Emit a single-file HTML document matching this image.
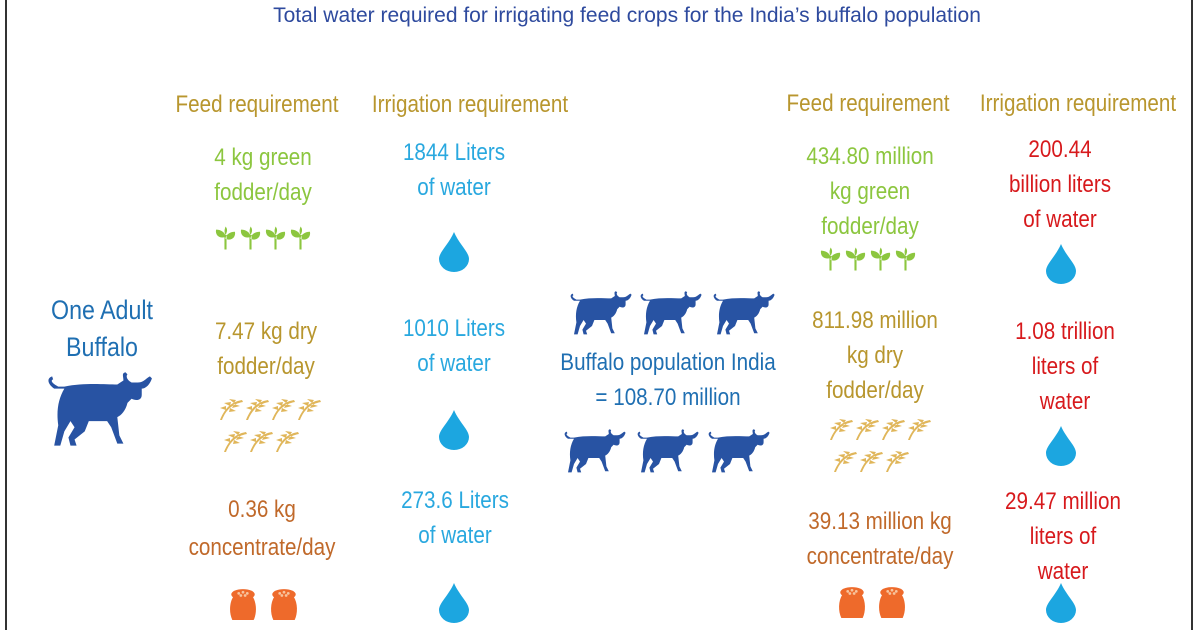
<!DOCTYPE html>
<html><head><meta charset="utf-8">
<style>
html,body{margin:0;padding:0;background:#fff;}
#root{position:relative;width:1200px;height:630px;overflow:hidden;background:#fff;font-family:"Liberation Sans Narrow","Liberation Sans",sans-serif;}
.frame{position:absolute;left:5px;top:-2px;width:1188px;height:640px;border:2px solid #333;box-sizing:border-box;}
.t{position:absolute;transform:translateX(-50%) scaleX(0.86);white-space:nowrap;text-align:center;font-size:24px;line-height:35px;}
.hdr{color:#b8962e;font-size:24px;}
.green{color:#8cc63f}.blue{color:#29a8df}.gold{color:#b8962e}.orange{color:#c0692a}.red{color:#d7191c}.navy{color:#1f6fb2}
svg.ic{position:absolute;overflow:visible}
</style></head><body>
<div id="root">
<div class="frame"></div>
<svg width="0" height="0" style="position:absolute">
<defs>
<symbol id="buf" viewBox="0 0 110 80"><path fill="#2853a3" d="M10,18 C4,14 2,8 8,6 L9,9 C6,10 8,13 14,16 L20,16 C40,12 60,14 72,14 L78,10 C78,6 76,3 80,2 L82,4 C80,6 82,10 86,12 L92,12 C98,12 100,8 104,6 L106,8 C104,14 100,18 96,18 L96,24 C96,30 90,30 86,28 L82,32 C80,40 76,44 72,46 L74,64 L78,72 L72,72 L66,56 L62,50 L44,50 L40,60 L30,68 L32,74 L26,74 L24,66 L30,56 L26,50 L20,60 L16,74 L10,74 L14,54 C12,40 14,28 20,18 Z"/></symbol>
<symbol id="drop" viewBox="0 0 30 40"><path fill="#1ca6e0" d="M15,0 C20,12 30,20 30,27 A15,13 0 0 1 0,27 C0,20 10,12 15,0 Z"/></symbol>
<symbol id="sprout" viewBox="0 0 20 22"><path fill="#8cc63f" d="M9,22 L9,8 L11,8 L11,22 Z M10,10 C4,12 0,8 1,3 C6,3 10,6 10,10 Z M10,12 C16,14 20,10 19,5 C14,5 10,8 10,12 Z M10,8 C8,4 10,1 10,0 C12,2 12,5 10,8Z"/></symbol>
<symbol id="wheat" viewBox="0 0 26 22"><path fill="#e0b65a" d="M2,22 C6,12 12,4 24,2 L25,4 C14,6 8,12 4,22 Z M8,12 L2,10 L8,8Z M12,8 L6,5 L13,4Z M16,5 L11,1 L18,2Z M11,14 L18,13 L12,10Z M14,10 L22,8 L16,6Z"/></symbol>
<symbol id="sack" viewBox="0 0 26 30"><path fill="#ee6a2b" d="M4,8 L22,8 C26,14 26,24 23,30 L3,30 C0,24 0,14 4,8 Z"/><ellipse cx="13" cy="6" rx="11" ry="5" fill="#ee6a2b"/><g fill="#f7c59f"><circle cx="9" cy="5" r="1.3"/><circle cx="13" cy="4" r="1.3"/><circle cx="17" cy="5" r="1.3"/><circle cx="11" cy="7" r="1.3"/><circle cx="15" cy="7" r="1.3"/></g></symbol>
</defs></svg>

<div class="t" style="left:627px;top:2px;color:#2e4a9e;font-size:21px;line-height:28px;transform:translateX(-50%)">Total water required for irrigating feed crops for the India’s buffalo population</div>

<div class="t hdr" style="left:257px;top:87px">Feed requirement</div>
<div class="t hdr" style="left:470px;top:87px">Irrigation requirement</div>
<div class="t hdr" style="left:868px;top:86px">Feed requirement</div>
<div class="t hdr" style="left:1078px;top:86px">Irrigation requirement</div>

<div class="t navy" style="left:102px;top:292px;font-size:27px;line-height:37px">One Adult<br>Buffalo</div>
<svg class="ic" style="left:44px;top:370px" width="112" height="82"><use href="#buf"/></svg>

<div class="t green" style="left:263px;top:140px">4 kg green<br>fodder/day</div>
<div class="t blue" style="left:454px;top:135px">1844 Liters<br>of water</div>
<div class="t gold" style="left:266px;top:314px">7.47 kg dry<br>fodder/day</div>
<div class="t blue" style="left:454px;top:311px">1010 Liters<br>of water</div>
<div class="t orange" style="left:262px;top:491px;line-height:38px">0.36 kg<br>concentrate/day</div>
<div class="t blue" style="left:455px;top:483px">273.6 Liters<br>of water</div>

<div class="t navy" style="left:668px;top:345px">Buffalo population India<br>= 108.70 million</div>

<div class="t green" style="left:870px;top:139px">434.80 million<br>kg green<br>fodder/day</div>
<div class="t red" style="left:1060px;top:132px">200.44<br>billion liters<br>of water</div>
<div class="t gold" style="left:875px;top:303px">811.98 million<br>kg dry<br>fodder/day</div>
<div class="t red" style="left:1065px;top:314px">1.08 trillion<br>liters of<br>water</div>
<div class="t orange" style="left:880px;top:504px">39.13 million kg<br>concentrate/day</div>
<div class="t red" style="left:1063px;top:484px">29.47 million<br>liters of<br>water</div>
</div>
<script>
const root=document.getElementById('root');
function ic(sym,x,y,w,h,name){
  const s=document.createElementNS('http://www.w3.org/2000/svg','svg');
  s.setAttribute('class','ic');
  s.setAttribute('width',w);s.setAttribute('height',h);
  s.style.left=x+'px';s.style.top=y+'px';
  
  
  const u=document.createElementNS('http://www.w3.org/2000/svg','use');
  u.setAttribute('href','#'+sym);s.appendChild(u);root.appendChild(s);
}
[[439,232],[439,410],[439,583],[1046,244],[1046,426],[1046,583]].forEach(p=>ic('drop',p[0],p[1],30,40,'water-drop'));
[215,240,265,290].forEach(x=>ic('sprout',x,226,21,24,'green-fodder-icon'));
[820,845,870,895].forEach(x=>ic('sprout',x,247,21,24,'green-fodder-icon'));
[[218,398],[244,398],[270,398],[296,398],[222,430],[248,430],[274,430]].forEach(p=>ic('wheat',p[0],p[1],26,22,'dry-fodder-icon'));
[[828,418],[854,418],[880,418],[906,418],[832,450],[858,450],[884,450]].forEach(p=>ic('wheat',p[0],p[1],26,22,'dry-fodder-icon'));
[[229,588],[270,588],[838,586],[878,586]].forEach(p=>ic('sack',p[0],p[1],28,32,'concentrate-icon'));
[[568,290],[638,290],[711,290],[562,428],[635,428],[706,428]].forEach(p=>ic('buf',p[0],p[1],66,48,'population-buffalo-icon'));
</script>
</body></html>
